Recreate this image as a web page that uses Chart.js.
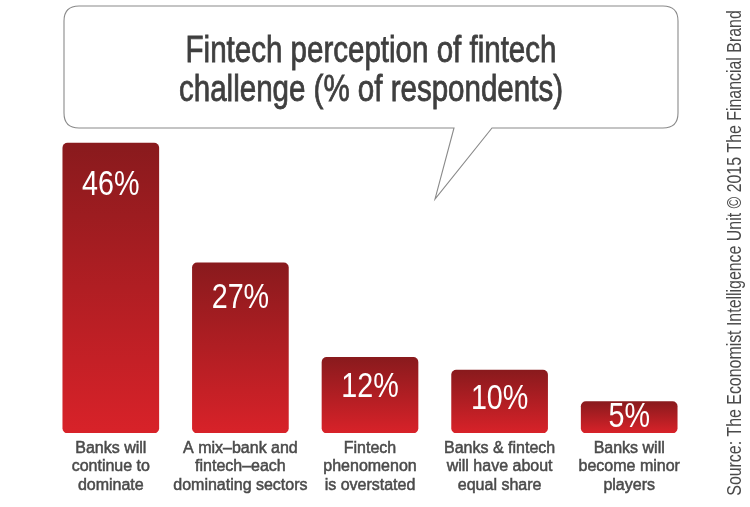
<!DOCTYPE html>
<html>
<head>
<meta charset="utf-8">
<script src="https://cdn.jsdelivr.net/npm/chart.js@4.4.1/dist/chart.umd.min.js"></script>
<style>
  html, body { margin: 0; padding: 0; background: #ffffff; }
  #wrap { position: relative; width: 750px; height: 507px; }
</style>
</head>
<body>
<div id="wrap"><canvas id="c" width="750" height="507"></canvas></div>
<script>
// ---- Data ----
const categories = [
  ["Banks will", "continue to", "dominate"],
  ["A mix\u2013bank and", "fintech\u2013each", "dominating sectors"],
  ["Fintech", "phenomenon", "is overstated"],
  ["Banks & fintech", "will have about", "equal share"],
  ["Banks will", "become minor", "players"]
];
const values = [46, 27, 12, 10, 5];
const titleLines = ["Fintech perception of fintech", "challenge (% of respondents)"];
const sourceText = "Source: The Economist Intelligence Unit \u00A9 2015 The Financial Brand";

const SANS = '"Liberation Sans", Arial, sans-serif';
const NARROW_SCALE = 0.82;

// draw text horizontally condensed (Arial Narrow look)
function narrowText(c, text, x, y, strokeW) {
  c.save();
  c.translate(x, y);
  c.scale(NARROW_SCALE, 1);
  c.fillText(text, 0, 0);
  if (strokeW) {
    c.lineWidth = strokeW;
    c.strokeStyle = c.fillStyle;
    c.strokeText(text, 0, 0);
  }
  c.restore();
}

function barGradient(ctx) {
  const chart = ctx.chart;
  const area = chart.chartArea;
  if (!area) return '#c01f26';
  const y = chart.scales.y;
  const v = ctx.raw;
  const top = y.getPixelForValue(v);
  const base = y.getPixelForValue(0);
  const g = chart.ctx.createLinearGradient(0, top, 0, base);
  g.addColorStop(0, '#891a1d');
  g.addColorStop(1, '#d82229');
  return g;
}

const bubblePlugin = {
  id: 'bubble',
  beforeDraw(chart) {
    const c = chart.ctx;
    c.save();
    // speech bubble
    const x0 = 64, y0 = 6, x1 = 678, y1 = 128, r = 15;
    c.beginPath();
    c.moveTo(x0 + r, y0);
    c.lineTo(x1 - r, y0);
    c.quadraticCurveTo(x1, y0, x1, y0 + r);
    c.lineTo(x1, y1 - r);
    c.quadraticCurveTo(x1, y1, x1 - r, y1);
    c.lineTo(492, y1);
    c.lineTo(435, 199);
    c.lineTo(454, y1);
    c.lineTo(x0 + r, y1);
    c.quadraticCurveTo(x0, y1, x0, y1 - r);
    c.lineTo(x0, y0 + r);
    c.quadraticCurveTo(x0, y0, x0 + r, y0);
    c.closePath();
    c.fillStyle = '#ffffff';
    c.fill();
    c.strokeStyle = '#8a8a8a';
    c.lineWidth = 1.1;
    c.stroke();
    // title
    c.fillStyle = '#3f3f3f';
    c.font = '36px ' + SANS;
    c.textAlign = 'center';
    c.textBaseline = 'alphabetic';
    narrowText(c, titleLines[0], 371, 62, 0.8);
    narrowText(c, titleLines[1], 371, 101, 0.8);
    // source (vertical)
    c.translate(736, 253);
    c.rotate(-Math.PI / 2);
    c.font = '19.4px ' + SANS;
    c.fillStyle = '#4a4a4a';
    c.textBaseline = 'middle';
    narrowText(c, sourceText, 0, 0);
    c.restore();
  },
  afterDatasetsDraw(chart) {
    const c = chart.ctx;
    const meta = chart.getDatasetMeta(0);
    c.save();
    c.fillStyle = '#ffffff';
    c.font = '35px ' + SANS;
    c.textAlign = 'center';
    c.textBaseline = 'middle';
    meta.data.forEach((bar, i) => {
      const h = bar.base - bar.y;
      const off = Math.min(h / 2, 26 + 0.055 * h);
      narrowText(c, values[i] + '%', bar.x, bar.y + off);
    });
    c.restore();
  }
};

new Chart(document.getElementById('c'), {
  type: 'bar',
  data: {
    labels: categories,
    datasets: [{
      data: values,
      backgroundColor: barGradient,
      borderRadius: 5,
      borderSkipped: false,
      barThickness: 96
    }]
  },
  options: {
    responsive: false,
    animation: false,
    devicePixelRatio: 1,
    layout: { padding: { left: 46, right: 56, top: 118, bottom: 0 } },
    plugins: { legend: { display: false }, tooltip: { enabled: false } },
    scales: {
      y: { display: false, min: 0, max: 50 },
      x: {
        grid: { display: false, drawTicks: false },
        border: { display: false },
        ticks: {
          color: '#4a4a4a',
          textStrokeColor: '#4a4a4a',
          textStrokeWidth: 0.5,
          padding: 6,
          font: { family: SANS, size: 16, lineHeight: 1.16 },
          maxRotation: 0, autoSkip: false
        },
        afterFit(scale) { scale.height = 74; }
      }
    }
  },
  plugins: [bubblePlugin]
});
</script>
</body>
</html>
